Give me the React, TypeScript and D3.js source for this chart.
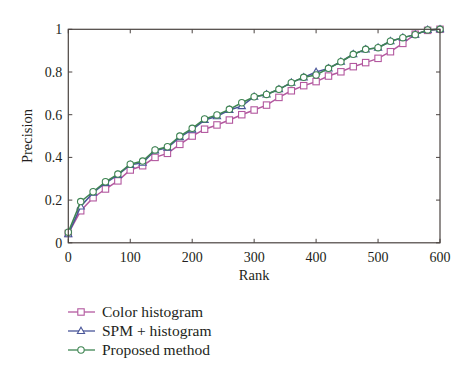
import React from "react";
import * as d3 from "d3";

const ranks = d3.range(0, 601, 20);
const colorHist = [0.044, 0.15, 0.211, 0.252, 0.29, 0.341, 0.361, 0.40, 0.419, 0.461, 0.50, 0.532, 0.552, 0.575, 0.60, 0.622, 0.645, 0.681, 0.712, 0.736, 0.755, 0.781, 0.801, 0.825, 0.844, 0.864, 0.895, 0.934, 0.977, 0.995, 1.0];
const spmHist = [0.04, 0.17, 0.235, 0.28, 0.318, 0.365, 0.375, 0.432, 0.445, 0.495, 0.53, 0.575, 0.593, 0.622, 0.64, 0.684, 0.695, 0.719, 0.75, 0.775, 0.80, 0.817, 0.848, 0.883, 0.906, 0.914, 0.944, 0.961, 0.975, 0.997, 1.0];
const proposed = [0.05, 0.193, 0.239, 0.286, 0.322, 0.368, 0.383, 0.435, 0.45, 0.50, 0.536, 0.58, 0.599, 0.625, 0.656, 0.684, 0.695, 0.719, 0.75, 0.775, 0.786, 0.817, 0.848, 0.883, 0.906, 0.914, 0.944, 0.961, 0.975, 0.997, 1.0];
const xTicks = [0, 100, 200, 300, 400, 500, 600];
const yTicks = [0, 0.2, 0.4, 0.6, 0.8, 1];
const seriesNames = ["Color histogram", "SPM + histogram", "Proposed method"];
const seriesColors = ["#b3589f", "#4a5699", "#3f8553"];
const seriesMarkers = ["square", "triangle", "circle"];

const font = "'Liberation Serif', 'DejaVu Serif', serif";

function Marker({ type, x, y, color }: { type: string; x: number; y: number; color: string }) {
  if (type === "square") return <rect x={x - 3.2} y={y - 3.2} width={6.4} height={6.4} fill="white" stroke={color} strokeWidth={1.1} />;
  if (type === "triangle") return <path d={`M${x},${y - 3.8}L${x + 3.6},${y + 2.5}L${x - 3.6},${y + 2.5}Z`} fill="white" stroke={color} strokeWidth={1.1} />;
  return <circle cx={x} cy={y} r={3.2} fill="white" stroke={color} strokeWidth={1.1} />;
}

export default function App() {
  const W = 474, H = 382;
  const left = 68.3, right = 440, top = 29.3, bottom = 242.8;
  const x = d3.scaleLinear().domain([0, 600]).range([left, right]);
  const y = d3.scaleLinear().domain([0, 1]).range([bottom, top]);
  const data = [colorHist, spmHist, proposed];
  const line = d3.line<number>().x((_, i) => x(ranks[i])).y((d) => y(d));
  const axisColor = "#4a4340";
  return (
    <svg width={W} height={H} style={{ position: "absolute", left: 0, top: 0, background: "white" }} fontFamily={font}>
      <rect x={0} y={0} width={W} height={H} fill="white" />
      {data.map((s, k) => (
        <g key={k}>
          <path d={line(s) || ""} fill="none" stroke={seriesColors[k]} strokeWidth={1.5} />
          {s.map((v, i) => (
            <Marker key={i} type={seriesMarkers[k]} x={x(ranks[i])} y={y(v)} color={seriesColors[k]} />
          ))}
        </g>
      ))}
      <rect x={left} y={top} width={right - left} height={bottom - top} fill="none" stroke={axisColor} strokeWidth={1.2} />
      {xTicks.map((t) => (
        <g key={"x" + t}>
          <line x1={x(t)} x2={x(t)} y1={bottom} y2={bottom - 4} stroke={axisColor} />
          <line x1={x(t)} x2={x(t)} y1={top} y2={top + 4} stroke={axisColor} />
          <text x={x(t)} y={262} textAnchor="middle" fontSize={14} fill="#231f20">{t}</text>
        </g>
      ))}
      {yTicks.map((t) => (
        <g key={"y" + t}>
          <line x1={left} x2={left + 4} y1={y(t)} y2={y(t)} stroke={axisColor} />
          <line x1={right} x2={right - 4} y1={y(t)} y2={y(t)} stroke={axisColor} />
          <text x={left - 6} y={y(t) + 5} textAnchor="end" fontSize={14} fill="#231f20">{String(t)}</text>
        </g>
      ))}
      <text x={(left + right) / 2} y={280} textAnchor="middle" fontSize={14.5} fill="#231f20">Rank</text>
      <text transform={`translate(32,${(top + bottom) / 2}) rotate(-90)`} textAnchor="middle" fontSize={14.5} fill="#231f20">Precision</text>
      {seriesNames.map((n, k) => {
        const ly = 312 + k * 19;
        return (
          <g key={n}>
            <line x1={68} x2={95} y1={ly} y2={ly} stroke={seriesColors[k]} strokeWidth={1.3} />
            <Marker type={seriesMarkers[k]} x={81} y={ly} color={seriesColors[k]} />
            <text x={102} y={ly + 5} fontSize={15.5} fill="#231f20">{n}</text>
          </g>
        );
      })}
    </svg>
  );
}
